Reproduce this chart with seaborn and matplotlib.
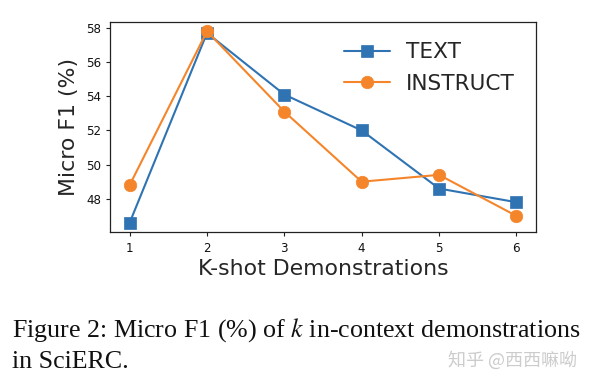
import matplotlib
matplotlib.use("Agg")
import matplotlib.pyplot as plt
import seaborn as sns
import pandas as pd

k_shots = [1, 2, 3, 4, 5, 6]
text_f1 = [46.6, 57.7, 54.1, 52.0, 48.6, 47.8]
instruct_f1 = [48.8, 57.8, 53.1, 49.0, 49.4, 47.0]
series_names = ["TEXT", "INSTRUCT"]
yticks = [48, 50, 52, 54, 56, 58]

sns.set_style("ticks")
plt.rcParams["font.family"] = ["DejaVu Sans"]
plt.rcParams["mathtext.fontset"] = "stix"

fig = plt.figure(figsize=(5.95, 3.83), dpi=100)
ax = fig.add_axes([0.1854, 0.3935, 0.7149, 0.5498])

df_text = pd.DataFrame({"k": k_shots, "f1": text_f1})
df_inst = pd.DataFrame({"k": k_shots, "f1": instruct_f1})

sns.lineplot(data=df_text, x="k", y="f1", ax=ax, color="#2f73b3", marker="s",
             markersize=9, markeredgewidth=0.5, markeredgecolor="#2f73b3",
             linewidth=1.5, label=series_names[0])
sns.lineplot(data=df_inst, x="k", y="f1", ax=ax, color="#f5852a", marker="o",
             markersize=9, markeredgewidth=0.5, markeredgecolor="#f5852a",
             linewidth=1.5, label=series_names[1])

ax.set_xticks(k_shots)
ax.set_yticks(yticks)
ax.tick_params(axis="both", labelsize=8.6, length=3.2, width=0.8, pad=3.5,
               colors="#222222", labelcolor="#111111")
for s in ax.spines.values():
    s.set_visible(True)
    s.set_color("#222222")
    s.set_linewidth(0.9)

ax.set_xlabel("K-shot Demonstrations", fontsize=15.8, labelpad=3)
ax.set_ylabel("Micro F1 (%)", fontsize=15.8, labelpad=5)

leg = ax.legend(loc="upper right", frameon=False, fontsize=15.6, labelspacing=0.52,
                handlelength=2.1, handletextpad=0.75, borderaxespad=0.55)

fig.text(0.02, 1 - 337 / 383, r"Figure 2: Micro F1 (%) of $k$ in-context demonstrations",
         family="Liberation Serif", fontsize=18.7, ha="left", va="baseline", color="#111111")
fig.text(0.02, 1 - 368 / 383, "in SciERC.",
         family="Liberation Serif", fontsize=18.7, ha="left", va="baseline", color="#111111")
fig.text(0.97, 1 - 360 / 383, "知乎 @西西嘛呦", family=["Noto Sans CJK SC", "DejaVu Sans"],
         fontsize=13, ha="right", va="center", color="#cccccc")

fig.savefig("out.png", dpi=100, facecolor="white")
